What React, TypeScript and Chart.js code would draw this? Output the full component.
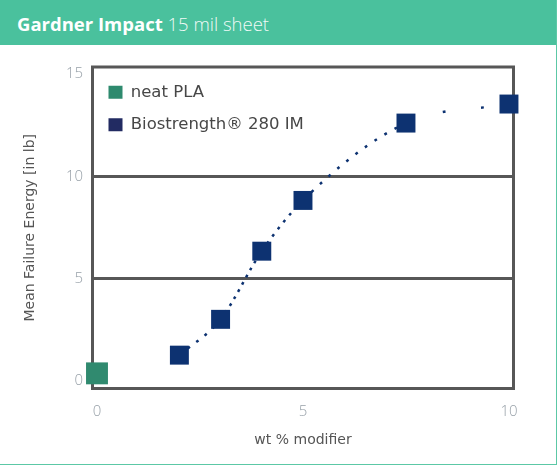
import React, { useEffect, useRef } from 'react';
import { Chart, registerables } from 'chart.js';

Chart.register(...registerables);

// ---- data ----
const neatX = [0];
const neatY = [0.37];
const bioX = [2, 3, 4, 5, 7.5, 10];
const bioY = [1.26, 3.01, 6.34, 8.82, 12.6, 13.53];
const xTicks = [0, 5, 10];
const yTicks = [0, 5, 10, 15];
const yGridTicks = [5, 10];

const GREEN = '#308a6f';
const NAVY = '#0d3271';
const LEGEND_GREEN = '#2e8a6e';
const LEGEND_NAVY = '#222b62';
const FRAME = '#575757';
const HEADER = '#4ac19d';
const FONT = "'Open Sans', sans-serif";
const WIDE = "'DejaVu Sans', sans-serif";

const framePlugin = {
  id: 'frame',
  beforeDatasetsDraw(chart: any) {
    const { ctx, chartArea: a } = chart;
    ctx.save();
    ctx.strokeStyle = FRAME;
    ctx.lineWidth = 3;
    ctx.strokeRect(a.left, a.top, a.right - a.left, a.bottom - a.top);
    ctx.restore();
  },
};

export default function App() {
  const ref = useRef<HTMLCanvasElement>(null);

  useEffect(() => {
    const canvas = ref.current!;
    Chart.defaults.font.family = FONT;
    const chart = new Chart(canvas, {
      type: 'scatter',
      data: {
        datasets: [
          {
            label: 'neat PLA',
            data: neatX.map((x, i) => ({ x, y: neatY[i] })),
            backgroundColor: GREEN,
            borderColor: GREEN,
            borderWidth: 0,
            pointStyle: 'rect',
            pointRadius: 15.5,
            pointHoverRadius: 15.5,
            clip: false,
          } as any,
          {
            label: 'Biostrength® 280 IM',
            data: bioX.map((x, i) => ({ x, y: bioY[i] })),
            backgroundColor: NAVY,
            borderColor: NAVY,
            borderWidth: 0,
            pointStyle: 'rect',
            pointRadius: 13.4,
            pointHoverRadius: 13.4,
            clip: false,
          } as any,
          {
            type: 'line',
            label: 'trend',
            data: bioX.map((x, i) => ({ x, y: bioY[i] })),
            borderColor: NAVY,
            borderWidth: 2.5,
            pointRadius: 0,
            pointHoverRadius: 0,
            fill: false,
            cubicInterpolationMode: 'monotone',
            clip: false,
            segment: {
              borderDash: (c: any) => {
                const dx = c.p1.x - c.p0.x;
                const dy = c.p1.y - c.p0.y;
                const len = Math.hypot(dx, dy);
                const period = Math.max(6.5, (7 * len) / Math.max(Math.abs(dy), 1));
                return [2.8, period - 2.8];
              },
            },
          } as any,
        ],
      },
      options: {
        animation: false,
        responsive: false,
        events: [],
        layout: { padding: { top: 22, right: 44.5, left: 0, bottom: 0 } },
        plugins: {
          legend: {
            position: 'chartArea' as any,
            align: 'start',
            title: {
              display: true,
              text: ' ',
              font: { size: 10 },
              padding: { top: 11, bottom: 0 },
            },
            labels: {
              boxWidth: 14,
              boxHeight: 13,
              padding: 16,
              color: '#474747',
              font: { size: 16.5, family: WIDE },
              filter: (item: any) => item.datasetIndex < 2,
              generateLabels: (ch: any) => {
                const items = Chart.defaults.plugins.legend.labels.generateLabels(ch);
                items.forEach((it: any) => {
                  if (it.datasetIndex === 0) { it.fillStyle = LEGEND_GREEN; it.strokeStyle = LEGEND_GREEN; }
                  if (it.datasetIndex === 1) { it.fillStyle = LEGEND_NAVY; it.strokeStyle = LEGEND_NAVY; }
                  it.lineWidth = 0;
                });
                return items;
              },
            },
          },
          tooltip: { enabled: false },
        },
        scales: {
          x: {
            type: 'linear',
            min: -0.109,
            max: 10.11,
            afterBuildTicks: (s: any) => { s.ticks = xTicks.map((v) => ({ value: v })); },
            afterFit: (s: any) => { s.height = 76.5; },
            grid: { display: false, drawTicks: false },
            border: { display: false },
            ticks: { padding: 13.9, color: '#97a0a8', font: { size: 15, weight: 300 as any } },
            title: {
              display: true,
              text: 'wt % modifier',
              color: '#555555',
              font: { size: 14, family: WIDE },
              padding: { top: 0, bottom: 16 },
            },
          },
          y: {
            type: 'linear',
            min: -0.37,
            max: 15.34,
            afterBuildTicks: (s: any) => { s.ticks = yTicks.map((v) => ({ value: v })); },
            afterFit: (s: any) => { s.width = 92.5; },
            grid: {
              drawTicks: false,
              lineWidth: 3,
              color: (c: any) => (c.tick && yGridTicks.includes(c.tick.value) ? FRAME : 'rgba(0,0,0,0)'),
            },
            border: { display: false },
            ticks: { padding: 9.5, color: '#97a0a8', font: { size: 15, weight: 300 as any } },
            title: {
              display: true,
              text: 'Mean Failure Energy [in lb]',
              color: '#555555',
              font: { size: 14, family: WIDE },
              padding: { top: 22, bottom: 0 },
            },
          },
        },
      },
      plugins: [framePlugin],
    });
    return () => chart.destroy();
  }, []);

  return (
    <div
      style={{
        position: 'absolute',
        left: 0,
        top: 0,
        width: 557,
        height: 465,
        boxSizing: 'border-box',
        borderRight: '1px solid #5cc8a6',
        borderBottom: '1px solid #5cc8a6',
        background: '#ffffff',
        overflow: 'hidden',
        fontFamily: FONT,
      }}
    >
      <div
        style={{
          position: 'absolute',
          left: 0,
          top: 0,
          width: 558,
          height: 45,
          background: HEADER,
          color: '#ffffff',
          fontSize: 18.5,
          lineHeight: '48px',
          paddingLeft: 17,
          boxSizing: 'border-box',
          whiteSpace: 'nowrap',
          overflow: 'hidden',
        }}
      >
        <span style={{ fontWeight: 700 }}>Gardner Impact</span>
        <span style={{ fontWeight: 300, opacity: 0.92 }}> 15 mil sheet</span>
      </div>
      <canvas
        ref={ref}
        width={558}
        height={420}
        style={{ position: 'absolute', left: 0, top: 45, width: 558, height: 420 }}
      />
    </div>
  );
}
